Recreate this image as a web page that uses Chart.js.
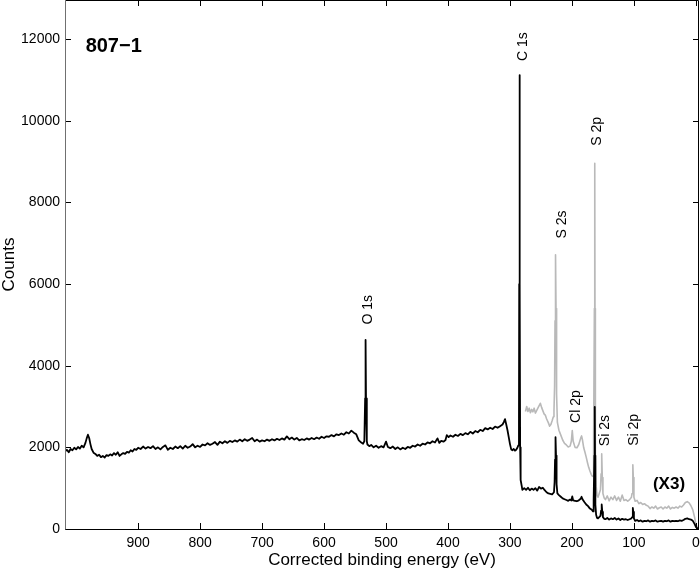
<!DOCTYPE html>
<html>
<head>
<meta charset="utf-8">
<script src="https://cdn.jsdelivr.net/npm/chart.js@4/dist/chart.umd.min.js"></script>
<style>
  html, body { margin: 0; padding: 0; background: #fff; }
  canvas { display: block; }
</style>
</head>
<body>
<canvas id="xps" width="700" height="571"></canvas>
<script>
// survey spectrum (black), binding energy in eV
const surveyEnergy = [
  1018,1015,1012,1009,1006,1003,1000,997,994,991,
  988,985,983,981,979,977,975,972,969,966,
  963,960,957,954,951,948,945,942,939,936,
  933,930,927,924,921,918,915,912,909,906,
  903,900,
  896,892,888,884,880,876,872,868,864,860,
  856,852,848,844,840,836,832,828,824,820,
  816,812,808,804,800,796,792,788,784,780,
  776,772,768,764,760,756,752,748,744,740,
  736,732,728,724,720,716,712,708,704,700,
  696,692,688,684,680,676,672,668,664,660,
  656,652,648,644,640,636,632,628,624,620,
  616,612,608,604,600,596,592,588,584,580,
  576,572,568,564,560,556,552,548,544,540,
  537,535,533.7,533,532.3,531,530,527,524,520,
  516,512,508,504,500,497,493,489,485,481,
  477,473,469,465,461,457,453,449,445,441,
  437,433,429,425,421,417,414,411,407,404,
  402,399,396,392,388,384,380,376,372,368,
  364,360,356,352,348,344,340,336,332,328,
  324,320,316,312,310,308,306,304,302,300,
  298,296,294,292,290,288,
  286.5,285.5,285.1,284.6,284.1,283.6,282.8,281,280,277,
  274,271,268,265,262,259,256,253,250,247,
  244,241,238,235,232,229,228,227.3,226.5,225.7,
  224.8,223.5,221,218,215,212,209,206,203,201,
  199.5,198,195,192,189,186,184.5,183,180,177,
  174,171,168,166,165,163.8,163.2,162.8,162.2,161,
  159.5,158,156,154,153,152,151,150,148,146,
  143,140,137,134,131,128,125,122,119,116,
  113,110,107,104,103,102,101.5,101,100,98,
  95,92,89,86,83,80,77,74,71,68,
  65,62,59,56,53,50,47,44,41,38,
  35,32,29,26,23,20,17,14,11,8,
  5,2,0,-3,-5
];
const surveyCounts = [
  1900,1940,1880,1960,1930,1990,1950,2010,1970,2040,
  2000,2110,2220,2310,2230,2080,1960,1870,1840,1790,
  1820,1760,1790,1750,1810,1790,1830,1800,1860,1820,
  1880,1790,1830,1860,1840,1890,1870,1930,1900,1960,
  1940,1990,
  1960,2020,1970,2010,1980,2030,1960,2000,1950,2010,
  2050,1940,1990,1960,2020,1980,2030,1970,2040,1990,
  2020,2080,2000,2040,2010,2070,2050,2100,2060,2090,
  2130,2060,2140,2100,2150,2110,2160,2130,2170,2140,
  2190,2150,2200,2160,2190,2230,2150,2190,2140,2170,
  2150,2190,2160,2200,2170,2210,2180,2220,2190,2270,
  2200,2240,2190,2230,2170,2200,2180,2220,2190,2230,
  2200,2240,2210,2260,2230,2270,2260,2300,2270,2320,
  2300,2340,2310,2370,2340,2410,2360,2320,2170,2120,
  2090,2150,3200,4630,3200,2150,2070,2030,2060,2000,
  2040,1990,2030,2000,2140,2010,1980,2020,1960,2000,
  1950,1990,1960,2010,1990,2040,2020,2070,2040,2090,
  2070,2120,2100,2150,2120,2220,2110,2160,2140,2180,
  2300,2250,2290,2260,2310,2280,2330,2300,2350,2320,
  2380,2340,2400,2370,2430,2400,2470,2440,2480,2450,
  2510,2480,2520,2560,2620,2690,2560,2420,2250,2080,
  1950,1930,1960,1920,1940,1990,
  2050,2600,6000,11120,6000,2000,1200,1050,960,1000,
  960,1010,950,990,960,1000,940,1030,990,1010,
  950,900,870,860,850,900,1150,1700,2250,1800,
  1100,870,830,790,750,730,710,690,720,700,
  800,700,690,680,700,740,790,730,660,600,
  560,500,470,430,700,1800,2990,1800,600,350,
  270,260,290,320,450,600,420,290,250,240,
  270,230,260,240,270,230,260,220,250,230,
  240,220,240,260,290,450,514,420,260,200,
  220,190,210,180,200,190,210,180,200,190,
  210,180,190,200,180,200,190,210,180,200,
  190,200,190,210,200,220,250,260,240,230,
  200,120,50,10,0
];

// low energy part of the survey, scaled up (grey, "X3")
const x3Energy = [
  275,273,271,269,267,265,263,261,259,257,
  254,251,249,247,245,243,241,238,236,234,
  232,230,229,228,227.3,226.5,225.7,224.8,223.5,221,
  218,215,212,209,206,203,201,199.5,198,195,
  192,189,186,184.5,183,181,179,177,175,173,
  171,169,167,166,165,163.8,163.2,162.8,162.2,161,
  159.5,158,156,154,153,152,151,150,148,146,
  143,140,137,134,131,128,125,122,119,116,
  113,110,107,104,103,102,101.5,101,100,98,
  95,92,89,86,83,80,77,74,71,68,
  65,62,59,56,53,50,47,44,41,38,
  35,32,29,26,23,20,17,14,11,8,
  5,2,0,-3,-5
];
const x3Counts = [
  2880,3000,2880,2960,2850,2930,2870,2960,2840,2900,
  2990,3080,2980,2900,2820,2790,2700,2600,2520,2560,
  2650,2750,2900,3500,5100,6720,5400,3300,2610,2420,
  2300,2180,2100,2060,2010,2030,2150,2410,2150,2000,
  1990,2070,2220,2280,2180,1990,1880,1760,1630,1510,
  1420,1340,1290,1300,2300,5400,8960,5400,1800,1050,
  820,780,870,960,1350,1840,1260,870,760,720,
  810,690,780,720,810,700,780,680,830,700,
  720,680,720,780,870,1350,1574,1260,780,680,
  700,620,650,600,620,580,560,500,540,510,
  560,490,520,540,490,540,510,560,490,530,
  510,540,510,560,540,590,650,670,640,570,
  470,280,110,30,0
];

const energyTicks = [900, 800, 700, 600, 500, 400, 300, 200, 100, 0];
const countTicks = [0, 2000, 4000, 6000, 8000, 10000, 12000];

// peak labels, anchored in data units (eV, counts)
const peakNames = ['O 1s', 'C 1s', 'S 2s', 'S 2p', 'Cl 2p', 'Si 2s', 'Si 2p'];
const peakLabelEnergy = [529, 278.6, 216.6, 159.2, 193.5, 146, 100];
const peakLabelCounts = [5370, 11820, 7460, 9740, 3000, 2410, 2430];

const FONT = "'Liberation Sans', Arial, Helvetica, sans-serif";

function toPoints(xs, ys) {
  return xs.map((x, i) => ({ x: x, y: ys[i] }));
}

// keep the plot box pinned to the canvas edges
function noEdgePadding(s) {
  s.paddingTop = 0;
  s.paddingBottom = 0;
  s.paddingLeft = 0;
  s.paddingRight = 0;
}

const frame = {
  id: 'frame',
  afterDraw(chart) {
    const { ctx, chartArea: a, scales: { x, y } } = chart;
    ctx.save();

    // inward ticks on all four sides
    ctx.lineWidth = 1;
    ctx.strokeStyle = '#000';
    ctx.beginPath();
    x.ticks.forEach(t => {
      const px = Math.round(x.getPixelForValue(t.value)) + 0.5;
      ctx.moveTo(px, a.bottom); ctx.lineTo(px, a.bottom - 6);
      ctx.moveTo(px, a.top); ctx.lineTo(px, a.top + 6);
    });
    y.ticks.forEach(t => {
      const py = Math.round(y.getPixelForValue(t.value)) + 0.5;
      ctx.moveTo(a.left, py); ctx.lineTo(a.left + 6, py);
      ctx.moveTo(a.right, py); ctx.lineTo(a.right - 6, py);
    });
    ctx.stroke();

    // box
    const l = Math.round(a.left) + 0.5, r = Math.round(a.right) - 0.5;
    const t = Math.round(a.top) + 0.5, b = Math.round(a.bottom) + 0.5;
    ctx.beginPath();
    ctx.moveTo(l, b); ctx.lineTo(r, b); ctx.lineTo(r, t); ctx.lineTo(l, t);
    ctx.stroke();
    ctx.strokeStyle = '#707070';
    ctx.beginPath();
    ctx.moveTo(l, t); ctx.lineTo(l, b);
    ctx.stroke();

    // peak names, written upwards
    ctx.fillStyle = '#000';
    ctx.textAlign = 'center';
    ctx.textBaseline = 'middle';
    ctx.font = '14px ' + FONT;
    peakNames.forEach((name, i) => {
      ctx.save();
      ctx.translate(x.getPixelForValue(peakLabelEnergy[i]), y.getPixelForValue(peakLabelCounts[i]));
      ctx.rotate(-Math.PI / 2);
      ctx.fillText(name, 0, 0);
      ctx.restore();
    });

    ctx.font = 'bold 20px ' + FONT;
    ctx.fillText('807\u22121', x.getPixelForValue(939.4), y.getPixelForValue(11830));
    ctx.font = 'bold 17px ' + FONT;
    ctx.fillText('(X3)', x.getPixelForValue(43.4), y.getPixelForValue(1100));

    ctx.restore();
  }
};

new Chart(document.getElementById('xps'), {
  type: 'line',
  data: {
    datasets: [
      {
        label: 'Survey',
        data: toPoints(surveyEnergy, surveyCounts),
        borderColor: '#000',
        borderWidth: 1.8,
        pointRadius: 0,
        tension: 0,
        borderJoinStyle: 'round'
      },
      {
        label: 'X3',
        data: toPoints(x3Energy, x3Counts),
        borderColor: '#b9b9b9',
        borderWidth: 1.6,
        pointRadius: 0,
        tension: 0,
        borderJoinStyle: 'round'
      }
    ]
  },
  options: {
    responsive: false,
    animation: false,
    devicePixelRatio: 1,
    layout: { padding: { left: 0, right: 1, top: 0, bottom: 0 } },
    plugins: { legend: { display: false }, tooltip: { enabled: false } },
    scales: {
      x: {
        type: 'linear',
        reverse: true,
        min: -5,
        max: 1018,
        grid: { display: false, drawTicks: false },
        border: { display: false },
        afterBuildTicks: s => { s.ticks = energyTicks.map(v => ({ value: v })); },
        afterFit: s => { s.height = 42; noEdgePadding(s); },
        ticks: {
          color: '#000',
          padding: 6,
          maxRotation: 0,
          font: { family: FONT, size: 14 },
          callback: v => String(v)
        },
        title: {
          display: true,
          text: 'Corrected binding energy (eV)',
          color: '#000',
          padding: { top: 0, bottom: 0 },
          font: { family: FONT, size: 17 }
        }
      },
      y: {
        min: 0,
        max: 12960,
        grid: { display: false, drawTicks: false },
        border: { display: false },
        afterBuildTicks: s => { s.ticks = countTicks.map(v => ({ value: v })); },
        afterFit: s => { s.width = 65; noEdgePadding(s); },
        ticks: {
          color: '#000',
          padding: 5,
          font: { family: FONT, size: 14 },
          callback: v => String(v)
        },
        title: {
          display: true,
          text: 'Counts',
          color: '#000',
          padding: { top: 0, bottom: 0 },
          font: { family: FONT, size: 17, lineHeight: 1.05 }
        }
      }
    }
  },
  plugins: [frame]
});
</script>
</body>
</html>
